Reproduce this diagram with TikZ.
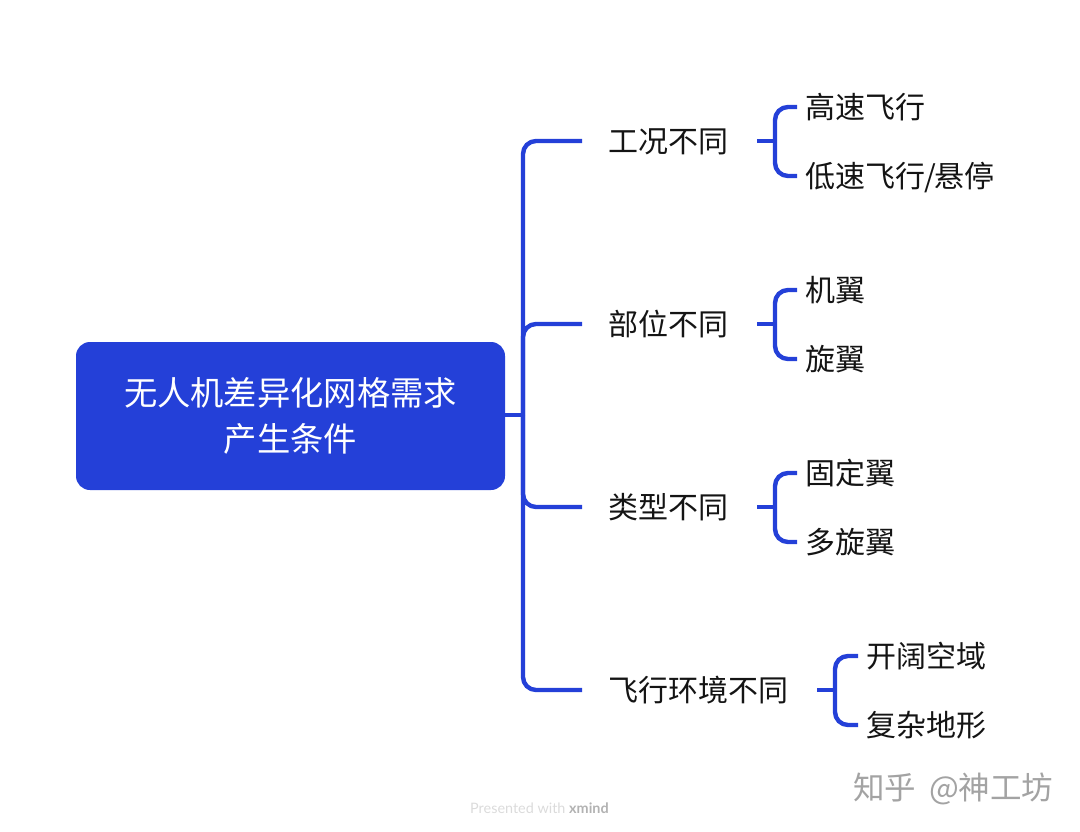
\documentclass[tikz,border=0pt]{standalone}
\usepackage{fontspec}
\setmainfont{Noto Sans CJK SC}
\newfontfamily\latinfont{Lato}
\definecolor{xblue}{HTML}{2440D8}
\definecolor{xtext}{HTML}{141414}
\tikzset{
  conn/.style={draw=xblue,line width=4.4pt,line cap=butt},
  curved/.style={conn,rounded corners=13pt},
  rootbox/.style={fill=xblue,rounded corners=14pt,minimum width=429pt,minimum height=148pt,inner sep=0pt,text=white,align=center,font=\fontsize{33.3}{45.5}\selectfont},
  branch/.style={anchor=west,inner xsep=26.5pt,inner ysep=2pt,text height=26.5pt,text depth=3.5pt,text=xtext,font=\fontsize{30}{36}\selectfont},
  leaf/.style={anchor=west,inner xsep=8pt,inner ysep=2pt,text height=26.5pt,text depth=3.5pt,text=xtext,font=\fontsize{30}{36}\selectfont},
  mark text/.style={inner sep=0pt,text=black!36,font=\fontsize{31.5}{38}\selectfont},
  credit/.style={inner sep=0pt,text=black!14,font=\latinfont\fontsize{14.4}{16}\selectfont}
}
\begin{document}
\begin{tikzpicture}[x=1pt,y=-1pt]
\useasboundingbox (0,0) rectangle (1080,832);
\node[rootbox] (root) at (290.5,416) {无人机差异化网格需求\\产生条件};
\coordinate (trunk) at (523,415);
\node[branch] (b1) at (582,141) {工况不同};
\node[branch] (b2) at (582,324) {部位不同};
\node[branch] (b3) at (582,507) {类型不同};
\node[branch] (b4) at (582,690) {飞行环境不同};
\node[leaf] (l1a) at (797,107) {高速飞行};
\node[leaf] (l1b) at (797,176) {低速飞行\kern-1pt/\kern-1pt悬停};
\node[leaf] (l2a) at (797,290) {机翼};
\node[leaf] (l2b) at (797,359) {旋翼};
\node[leaf] (l3a) at (797,473) {固定翼};
\node[leaf] (l3b) at (797,542) {多旋翼};
\node[leaf] (l4a) at (858,656) {开阔空域};
\node[leaf] (l4b) at (858,725) {复杂地形};
\draw[conn] (root.east|-trunk) -- (trunk);
\foreach \b in {b1,b2,b3,b4}{\draw[curved] (trunk) |- (\b.west);}
\coordinate (j1) at (775,141);
\coordinate (j2) at (775,324);
\coordinate (j3) at (775,507);
\coordinate (j4) at (835,690);
\foreach \b/\j/\a/\c in {b1/j1/l1a/l1b,b2/j2/l2a/l2b,b3/j3/l3a/l3b,b4/j4/l4a/l4b}{
  \draw[conn] ([xshift=2pt]\b.east) -- (\j);
  \draw[curved] (\j) |- (\a.west);
  \draw[curved] (\j) |- (\c.west);
}
\node[mark text,anchor=west] (wm) at (853,789) {知乎\hspace{13pt}@神工坊};
\node[credit,anchor=west] (cr) at (470,808.5) {Presented with {\bfseries\color{black!30}xmind}};
\end{tikzpicture}
\end{document}
